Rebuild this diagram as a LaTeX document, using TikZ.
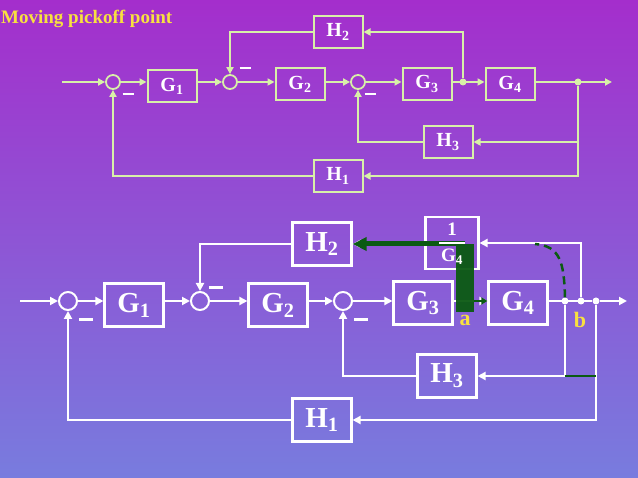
\documentclass[tikz,border=0pt]{standalone}
\usepackage{fontspec}
\setmainfont{Liberation Serif}
\usetikzlibrary{arrows.meta}
\definecolor{lg}{HTML}{D8F0A8}
\definecolor{dg}{HTML}{0B5A12}
\definecolor{ttl}{HTML}{F8E040}
\begin{document}
\begin{tikzpicture}[x=1pt,y=-1pt,
  ln/.style={line width=1.8pt,lg},
  ar/.style={ln,-{Triangle[length=7pt,width=7pt]}},
  sm/.style={circle,draw=lg,line width=1.8pt,minimum size=14pt,inner sep=0},
  bx/.style={draw=lg,line width=2pt,minimum width=49pt,minimum height=32pt,inner sep=0,text=white,font=\bfseries\fontsize{20}{20}\selectfont},
  dt/.style={circle,fill=lg,minimum size=7pt,inner sep=0},
  wl/.style={line width=2pt,white},
  wa/.style={wl,-{Triangle[length=8pt,width=8pt]}},
  ws/.style={circle,draw=white,line width=2pt,minimum size=18pt,inner sep=0},
  wb/.style={draw=white,line width=2.2pt,minimum width=59pt,minimum height=43pt,inner sep=0,text=white,font=\bfseries\fontsize{29}{29}\selectfont},
  wd/.style={circle,fill=white,minimum size=7pt,inner sep=0},
  mn/.style={font=\bfseries\fontsize{20}{20}\selectfont,text=white},
  ft/.style={text=white,font=\bfseries\fontsize{19}{19}\selectfont,inner sep=0},
  lab/.style={text=ttl,font=\bfseries\fontsize{22}{22}\selectfont}]
\shade[top color={rgb,255:red,164;green,46;blue,204},bottom color={rgb,255:red,120;green,124;blue,222}] (0,0) rectangle (638,478);
\useasboundingbox (0,0) rectangle (638,478);
\node[anchor=west,text=ttl,font=\bfseries\fontsize{19}{19}\selectfont,inner sep=1pt] (title) at (0,19) {Moving pickoff point};
% top diagram
\coordinate (in1) at (62,82);
\node[sm] (s1) at (113,82) {};
\node[bx] (g1) at (172,86) {G\textsubscript{1}};
\node[sm] (s2) at (230,82) {};
\node[bx] (g2) at (300,84) {G\textsubscript{2}};
\node[sm] (s3) at (358,82) {};
\node[bx] (g3) at (427,84) {G\textsubscript{3}};
\node[dt] (p1) at (463,82) {};
\node[bx] (g4) at (510,84) {G\textsubscript{4}};
\node[dt] (p2) at (578,82) {};
\coordinate (out1) at (612,82);
\node[bx] (h2) at (338,32) {H\textsubscript{2}};
\node[bx] (h3) at (448,142) {H\textsubscript{3}};
\node[bx] (h1) at (338,176) {H\textsubscript{1}};
\draw[ar] (in1)--(s1);
\draw[ar] (s1)--(g1.west|-s1);
\draw[ar] (g1.east|-s2)--(s2);
\draw[ar] (s2)--(g2.west|-s2);
\draw[ar] (g2.east|-s3)--(s3);
\draw[ar] (s3)--(g3.west|-s3);
\draw[ar] (g3.east|-p1)--(g4.west|-p1);
\draw[ar] (g4.east|-p2)--(out1);
\draw[ar] (p1)|-(h2.east);
\draw[ar] (h2.west)-|(s2);
\draw[ar] (p2)|-(h3.east);
\draw[ar] (h3.west)-|(s3);
\draw[ar] (p2)|-(h1.east);
\draw[ar] (h1.west)-|(s1);
\node[mn] (m1) at (128,94) {\rule{11pt}{2.5pt}};
\node[mn] (m2) at (245,68) {\rule{11pt}{2.5pt}};
\node[mn] (m3) at (370,94) {\rule{11pt}{2.5pt}};
% bottom diagram
\coordinate (in2) at (20,301);
\node[ws] (t1) at (68,301) {};
\node[wb] (b1) at (134,305) {G\textsubscript{1}};
\node[ws] (t2) at (200,301) {};
\node[wb] (b2) at (278,305) {G\textsubscript{2}};
\node[ws] (t3) at (343,301) {};
\node[wb] (b3) at (423,303) {G\textsubscript{3}};
\node[wb] (b4) at (518,303) {G\textsubscript{4}};
\node[wd] (q1) at (565,301) {};
\node[wd] (q2) at (581,301) {};
\node[wd] (q3) at (596,301) {};
\coordinate (out2) at (627,301);
\node[wb] (k2) at (322,244) {H\textsubscript{2}};
\node[wb,minimum width=53pt,minimum height=52pt] (inv) at (452,243) {};
\node[wb] (k3) at (447,376) {H\textsubscript{3}};
\node[wb] (k1) at (322,420) {H\textsubscript{1}};
\node[lab] (la) at (465,320) {a};
\node[lab] (lb) at (580,320) {b};
\draw[wa] (in2)--(t1);
\draw[wa] (t1)--(b1.west|-t1);
\draw[wa] (b1.east|-t2)--(t2);
\draw[wa] (t2)--(b2.west|-t2);
\draw[wa] (b2.east|-t3)--(t3);
\draw[wa] (t3)--(b3.west|-t3);
\draw[wa] (b3.east|-t3)--(b4.west|-t3);
\draw[wl] (b4.east|-q1)--(q3);
\draw[wa] (q3)--(out2);
\draw[wa] (q2)|-(inv.east);
\draw[wa] (inv.west)--(k2.east);
\draw[wa] (k2.west)-|(t2);
\draw[wa] (q1)|-(k3.east);
\draw[wa] (k3.west)-|(t3);
\draw[wa] (q3)|-(k1.east);
\draw[wa] (k1.west)-|(t1);
\node[mn] (n1) at (86,320) {\rule{14pt}{3pt}};
\node[mn] (n2) at (216,288) {\rule{14pt}{3pt}};
\node[mn] (n3) at (361,320) {\rule{14pt}{3pt}};
% green overlays
\coordinate (gc) at (465,244);
\fill[dg,opacity=0.95] (456,244) rectangle (474,312);
\draw[dg,line width=5pt,-{Triangle[length=14pt,width=13pt]}] (gc)--(k2.east);
\draw[dg,line width=1.5pt,-{Triangle[length=6pt,width=7pt]}] (474,301)--(b4.west|-q1);
\draw[dg,line width=2.5pt,dash pattern=on 8pt off 5pt] (q1.north) .. controls (564,262) and (560,246) .. (535,244);
\draw[dg,line width=2.5pt] (q1|-k3.east)--(q3|-k3.east);
% fraction text on top
\node[ft] (num) at (452,229) {1};
\draw[white,line width=1.5pt] ([xshift=-13pt]inv.center)--([xshift=13pt]inv.center);
\node[ft] (den) at (452,257) {G\textsubscript{4}};
\end{tikzpicture}
\end{document}
